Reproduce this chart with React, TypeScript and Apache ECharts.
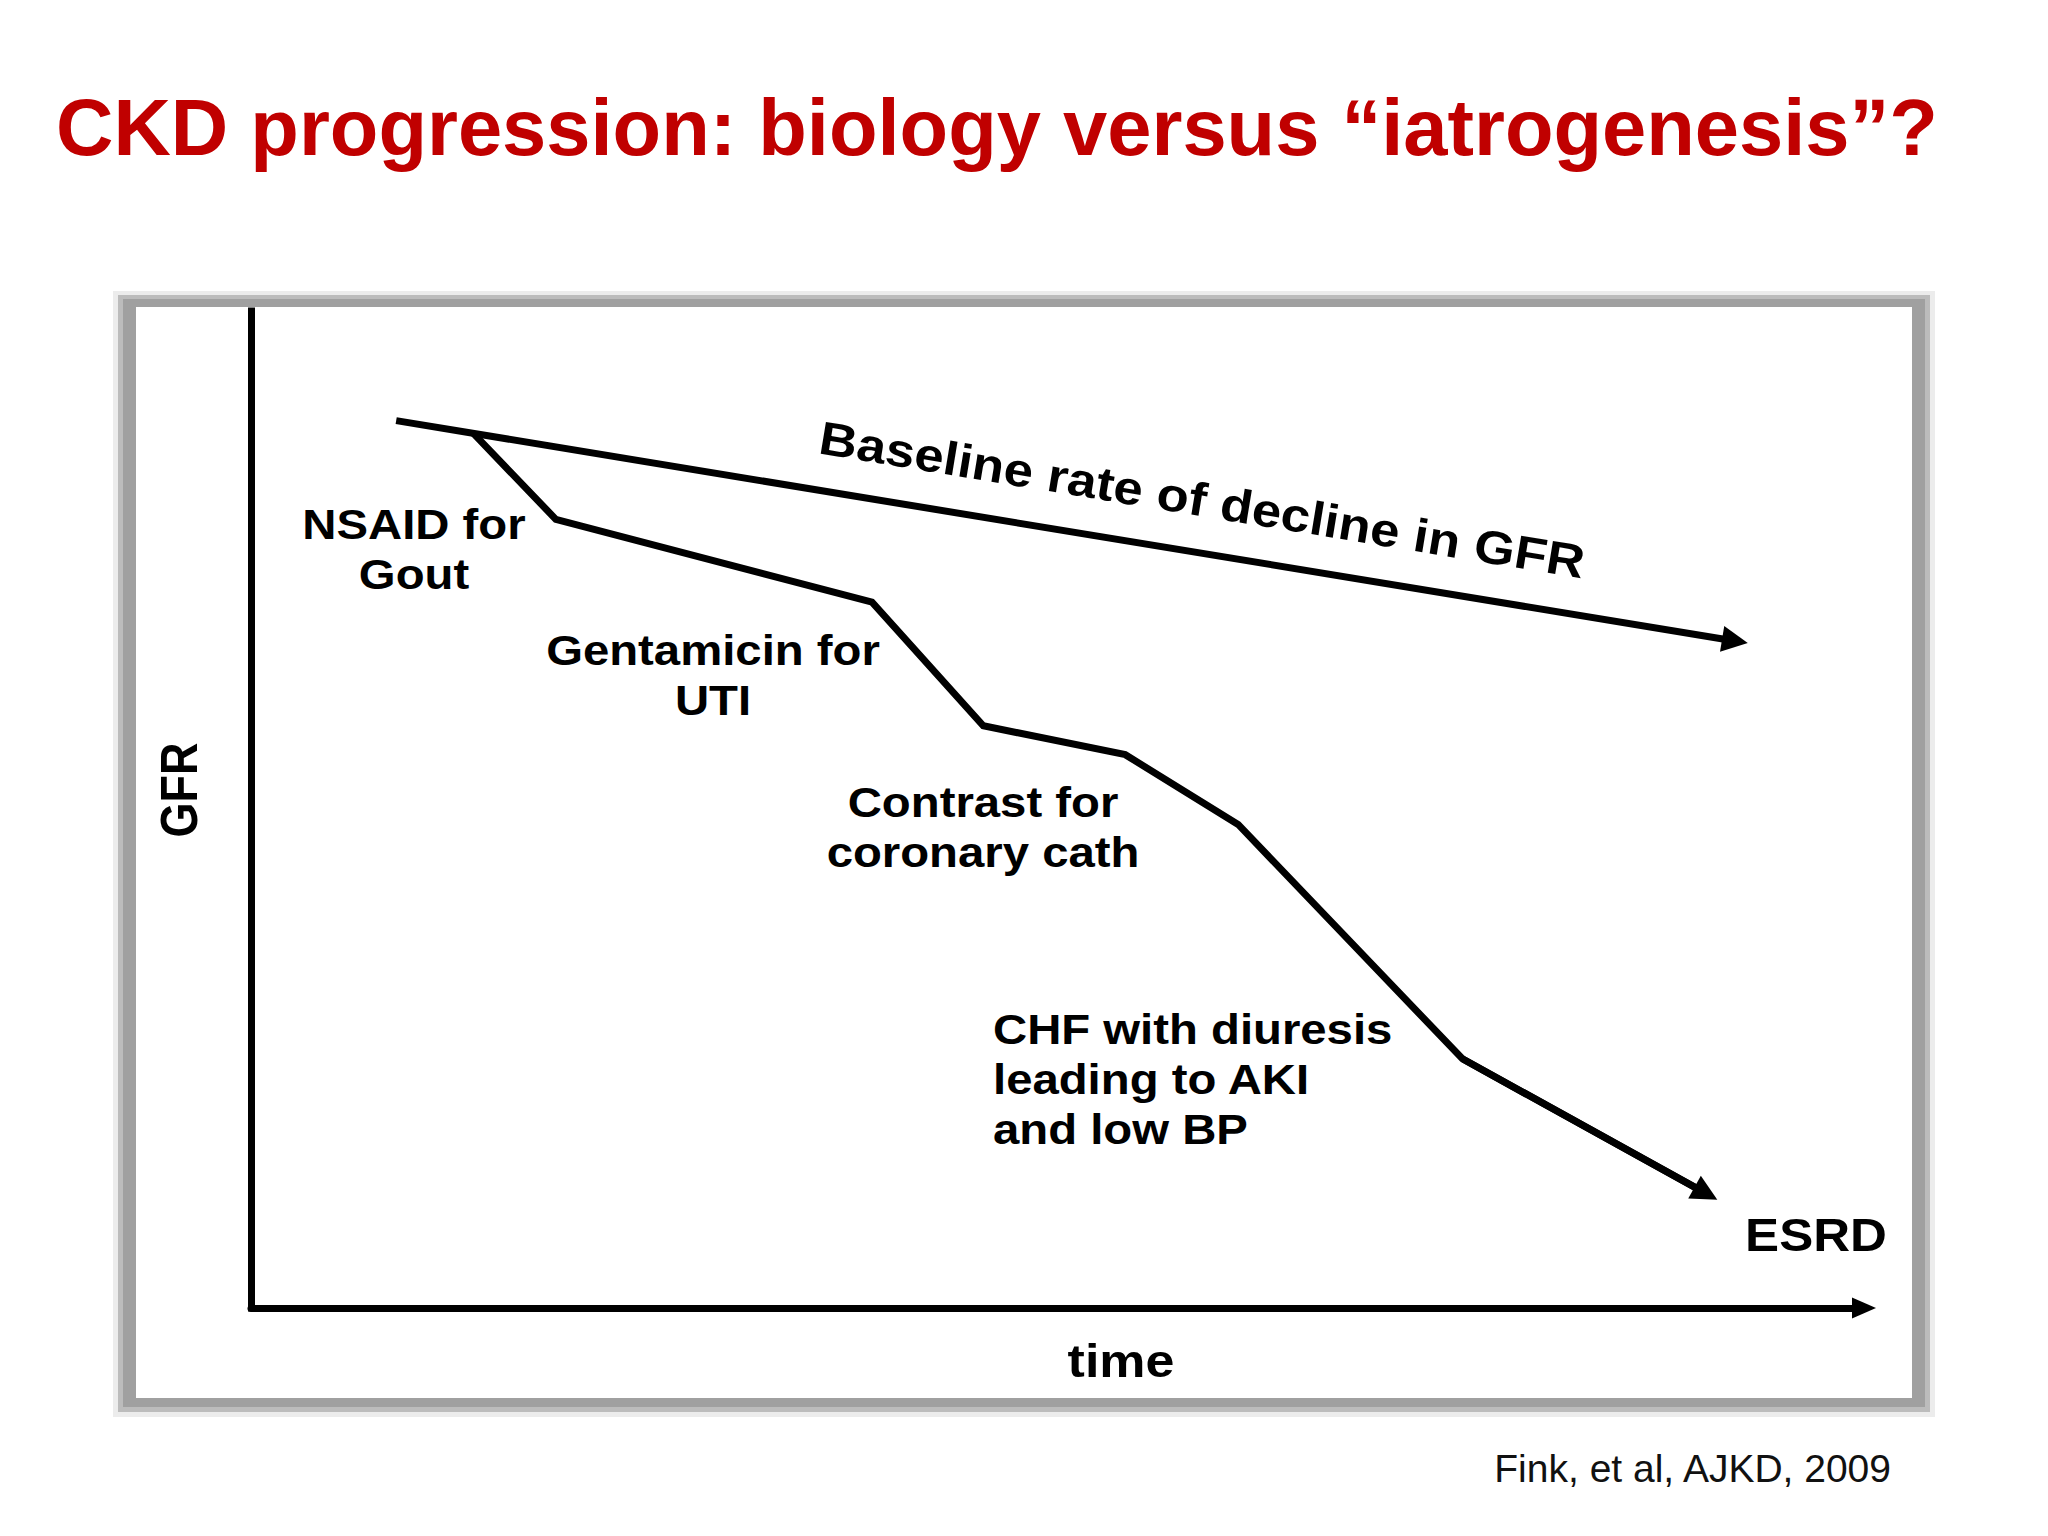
import React, { useEffect, useRef } from "react";
import * as echarts from "echarts";

// Slide heading and source
const titleText = "CKD progression: biology versus “iatrogenesis”?";
const citationText = "Fink, et al, AJKD, 2009";

// Axis titles
const xAxisTitle = "time";
const yAxisTitle = "GFR";

// Axis extents (arbitrary units)
const timeRange = [0, 100];
const gfrRange = [0, 100];

// Baseline (biological) decline in GFR: start and end of the arrow
const baselineTime = [9.0, 92.0];
const baselineGFR = [89.0, 66.9];

// Decline with iatrogenic insults, branching from the baseline
const declineTime = [13.8, 18.9, 38.5, 45.4, 54.2, 61.2, 75.1, 90.2];
const declineGFR = [87.7, 79.1, 70.8, 58.4, 55.5, 48.5, 25.0, 11.5];

// Annotations
const baselineLabel = "Baseline rate of decline in GFR";
const eventLabels = [
  "NSAID for\nGout",
  "Gentamicin for\nUTI",
  "Contrast for\ncoronary cath",
  "CHF with diuresis\nleading to AKI\nand low BP",
];
const endpointLabel = "ESRD";

const FONT = '"Liberation Sans", Arial, Helvetica, sans-serif';
const STROKE = 7;

function textEl(
  text: string,
  x: number,
  y: number,
  o: {
    size: number;
    align?: string;
    weight?: string;
    color?: string;
    scaleX?: number;
    scaleY?: number;
    rotation?: number;
    lineHeight?: number;
  }
) {
  const align = o.align || "center";
  return {
    type: "text",
    x,
    y,
    z: 20,
    scaleX: o.scaleX || 1,
    scaleY: o.scaleY || 1,
    rotation: o.rotation || 0,
    silent: true,
    style: {
      text,
      x: 0,
      y: 0,
      fill: o.color || "#000",
      fontSize: o.size,
      fontWeight: o.weight || "bold",
      fontFamily: FONT,
      textAlign: align,
      align,
      textVerticalAlign: "middle",
      verticalAlign: "middle",
      lineHeight: o.lineHeight || o.size * 1.2,
    },
  };
}

export default function App() {
  const ref = useRef<HTMLDivElement>(null);

  useEffect(() => {
    if (!ref.current) return;
    const chart = echarts.init(ref.current, undefined, { renderer: "svg" });

    const declineData = declineTime.map((t, i) => [t, declineGFR[i]]);
    const last = declineTime.length - 1;
    const arrowLines = [
      {
        coords: [
          [baselineTime[0], baselineGFR[0]],
          [baselineTime[1], baselineGFR[1]],
        ],
      },
      {
        coords: [
          [declineTime[last - 1], declineGFR[last - 1]],
          [declineTime[last], declineGFR[last]],
        ],
      },
    ];

    // Angle of the baseline on screen, used to tilt its label
    const slopeAngle = Math.atan2(222, 1352);

    chart.setOption({
      animation: false,
      backgroundColor: "#ffffff",
      title: {
        text: titleText,
        left: 56,
        top: 87,
        padding: 0,
        textStyle: {
          color: "#c00000",
          fontSize: 79.5,
          fontWeight: "bold",
          fontFamily: FONT,
        },
      },
      grid: { left: 251, right: 184, top: 311, bottom: 228 },
      xAxis: {
        type: "value",
        min: timeRange[0],
        max: timeRange[1],
        axisLine: {
          show: true,
          symbol: ["none", "triangle"],
          symbolSize: [21, 24],
          lineStyle: { color: "#000", width: STROKE },
        },
        axisTick: { show: false },
        axisLabel: { show: false },
        splitLine: { show: false },
      },
      yAxis: {
        type: "value",
        min: gfrRange[0],
        max: gfrRange[1],
        axisLine: {
          show: true,
          lineStyle: { color: "#000", width: STROKE, cap: "square" },
        },
        axisTick: { show: false },
        axisLabel: { show: false },
        splitLine: { show: false },
      },
      series: [
        {
          type: "line",
          data: declineData,
          symbol: "none",
          lineStyle: { color: "#000", width: STROKE, join: "miter" },
          z: 5,
        },
        {
          type: "lines",
          coordinateSystem: "cartesian2d",
          data: arrowLines,
          symbol: ["none", "triangle"],
          symbolSize: [21, 26],
          lineStyle: { color: "#000", width: STROKE, opacity: 1, curveness: 0 },
          z: 6,
        },
      ],
      graphic: [
        // Shaded picture frame around the diagram
        { type: "rect", z: -30, silent: true, shape: { x: 113, y: 291, width: 1822, height: 1126 }, style: { fill: "#ececec" } },
        { type: "rect", z: -29, silent: true, shape: { x: 118, y: 295, width: 1812, height: 1117 }, style: { fill: "#bcbcbc" } },
        { type: "rect", z: -28, silent: true, shape: { x: 123, y: 299, width: 1802, height: 1108 }, style: { fill: "#a0a0a0" } },
        { type: "rect", z: -27, silent: true, shape: { x: 136, y: 307, width: 1776, height: 1091 }, style: { fill: "#ffffff" } },

        textEl(baselineLabel, 1202, 500, { size: 47, scaleX: 1.12, rotation: -slopeAngle }),
        textEl(eventLabels[0], 414, 549, { size: 43, scaleX: 1.1, lineHeight: 50 }),
        textEl(eventLabels[1], 713, 675, { size: 43, scaleX: 1.1, lineHeight: 50 }),
        textEl(eventLabels[2], 983, 827, { size: 43, scaleX: 1.1, lineHeight: 50 }),
        textEl(eventLabels[3], 993, 1079, { size: 43, scaleX: 1.1, lineHeight: 50, align: "left" }),
        textEl(endpointLabel, 1816, 1235, { size: 46, scaleX: 1.11 }),
        textEl(xAxisTitle, 1121, 1361, { size: 46, scaleX: 1.13 }),
        textEl(yAxisTitle, 179, 790, { size: 45, scaleY: 1.15, rotation: Math.PI / 2 }),
        textEl(citationText, 1891, 1468, { size: 39, weight: "normal", align: "right", color: "#111" }),
      ],
    });

    return () => chart.dispose();
  }, []);

  return (
    <div
      ref={ref}
      style={{ position: "fixed", left: 0, top: 0, width: 2048, height: 1536 }}
    />
  );
}
